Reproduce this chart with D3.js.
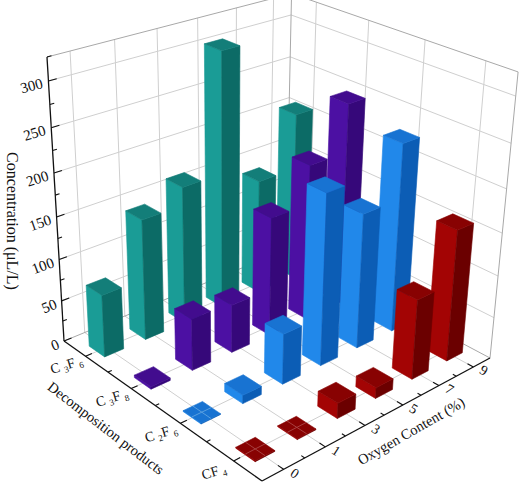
<!DOCTYPE html>
<html><head><meta charset="utf-8">
<script src="https://cdn.jsdelivr.net/npm/d3@7"></script>
<style>html,body{margin:0;padding:0;background:#fff;} svg{display:block;}</style>
</head><body>
<svg id="chart" width="520" height="484"></svg>
<script>
// ---------------- data ----------------
const products = ["C3F6", "C3F8", "C2F6", "CF4"];           // back -> front
const productLabels = [
  [["C ",0],["3",1],["F ",0],["6",1]],
  [["C ",0],["3",1],["F ",0],["8",1]],
  [["C ",0],["2",1],["F ",0],["6",1]],
  [["CF ",0],["4",1]]
];
const oxygen = ["0", "1", "3", "5", "7", "9"];               // Oxygen Content (%)
const c3f6 = [75, 145, 166, 306, 140, 206];
const c3f8 = [3, 62, 58, 143, 188, 244];
const c2f6 = [1, 10, 60, 202, 161, 225];
const cf4  = [1, 1, 18, 13, 95, 156];
const zTicks = [0, 50, 100, 150, 200, 250, 300];
const zMax = 325;
const zTitle = "Concentration (\u03bcL/L)";
const uTitle = "Decomposition products";
const vTitle = "Oxygen Content (%)";

const seriesValues = [c3f6, c3f8, c2f6, cf4];
const palette = [
  {left:"#1a9c96", right:"#0c6b66", top:"#137e79", cross:"#4fb5b0"},
  {left:"#4c10a3", right:"#36087a", top:"#420c8e", cross:"#7a50bb"},
  {left:"#2188ea", right:"#0c5db5", top:"#1873d2", cross:"#5aa0e0"},
  {left:"#a30404", right:"#6b0000", top:"#880202", cross:"#a84040"}
];

// ---------------- projection (perspective box) ----------------
const A = [64, 341], B = [262, 481], C = [490, 358];
const At = [47, 57], Dt = [290, -6], Ct = [518, 73];
function inter(p1, p2, p3, p4) {
  const d = (p1[0]-p2[0])*(p3[1]-p4[1]) - (p1[1]-p2[1])*(p3[0]-p4[0]);
  const a = p1[0]*p2[1] - p1[1]*p2[0], b = p3[0]*p4[1] - p3[1]*p4[0];
  return [(a*(p3[0]-p4[0]) - (p1[0]-p2[0])*b)/d, (a*(p3[1]-p4[1]) - (p1[1]-p2[1])*b)/d];
}
const VPu = inter(A, B, Dt, Ct), VPv = inter(B, C, At, Dt), VPw = inter(A, At, C, Ct);
const su = (A[0]-B[0])/(B[0]-VPu[0]);
const sw = (A[1]-At[1])/(At[1]-VPw[1]);
const Q = [A[0]+su*VPu[0], A[1]+su*VPu[1], 1+su];
const sv = (Q[0]-C[0]*Q[2])/(C[0]-VPv[0]);
function P(u, v, w) {
  const X = A[0] + u*su*VPu[0] + v*sv*VPv[0] + w*sw*VPw[0];
  const Y = A[1] + u*su*VPu[1] + v*sv*VPv[1] + w*sw*VPw[1];
  const W = 1 + u*su + v*sv + w*sw;
  return [X/W, Y/W];
}

// ---------------- scales ----------------
const uScale = d3.scaleBand().domain(products).range([0, 1]).paddingInner(0.65).paddingOuter(0.325);
const vScale = d3.scaleBand().domain(oxygen).range([0, 1]).paddingInner(0.54).paddingOuter(0.27);
const wScale = d3.scaleLinear().domain([0, zMax]).range([0, 1]);
const uStep = uScale.step(), vStep = vScale.step();
const uC = c => uScale(c) + uScale.bandwidth()/2;
const vC = c => vScale(c) + vScale.bandwidth()/2;

const svg = d3.select("#chart");
svg.append("rect").attr("width", 520).attr("height", 484).attr("fill", "#fff");
const line = d3.line();
function seg(g, p, q, color, width) {
  g.append("path").attr("d", line([p, q])).attr("stroke", color).attr("stroke-width", width).attr("fill", "none");
}
const ang = (p, q) => Math.atan2(q[1]-p[1], q[0]-p[0]) * 180 / Math.PI;

// ---------------- walls & grid ----------------
const grid = svg.append("g");
const gridCol = "#cfcfcf", frameCol = "#a8a8a8";
zTicks.filter(t => t > 0).forEach(t => {
  const w = wScale(t);
  seg(grid, P(0, 0, w), P(0, 1, w), gridCol, 1);   // left wall
  seg(grid, P(0, 1, w), P(1, 1, w), gridCol, 1);   // back wall
});
oxygen.forEach(o => {
  seg(grid, P(0, vC(o), 0), P(0, vC(o), 1), gridCol, 1);
  seg(grid, P(0, vC(o), 0), P(1, vC(o), 0), gridCol, 1);   // floor
});
products.forEach(p => {
  seg(grid, P(uC(p), 1, 0), P(uC(p), 1, 1), gridCol, 1);
  seg(grid, P(uC(p), 0, 0), P(uC(p), 1, 0), gridCol, 1);   // floor
});
[[P(0,1,0),P(1,1,0)],[P(0,0,0),P(0,1,0)],[P(0,1,0),P(0,1,1)],[P(1,1,0),P(1,1,1)],
 [P(0,0,1),P(0,1,1)],[P(0,1,1),P(1,1,1)]].forEach(s => seg(grid, s[0], s[1], frameCol, 1));

// ---------------- axes ----------------
const ax = svg.append("g");
const axCol = "#111";
seg(ax, P(0,0,0), P(0,0,1), axCol, 1.3);
seg(ax, P(0,0,0), P(1,0,0), axCol, 1.3);
seg(ax, P(1,0,0), P(1,1,0), axCol, 1.3);
d3.range(0, zMax + 1, 25).forEach(t => {
  const major = t % 50 === 0;
  seg(ax, P(0, 0, wScale(t)), P(0, major ? 0.03 : 0.016, wScale(t)), axCol, 1.1);
});
products.forEach((p, i) => {
  seg(ax, P(uC(p), 0, 0), P(uC(p), 0.025, 0), axCol, 1.1);
  if (i > 0) { const ub = i * uStep; seg(ax, P(ub, 0, 0), P(ub, 0.015, 0), axCol, 1.1); }
});
oxygen.forEach((o, j) => {
  seg(ax, P(1, vC(o), 0), P(1 - 0.025, vC(o), 0), axCol, 1.1);
  if (j > 0) { const vb = j * vStep; seg(ax, P(1, vb, 0), P(1 - 0.015, vb, 0), axCol, 1.1); }
});

// ---------------- bars ----------------
const bars = [];
products.forEach((p, i) => oxygen.forEach((o, j) => bars.push({i, j, p, o, val: seriesValues[i][j]})));
bars.sort((a, b) => (a.i - a.j) - (b.i - b.j));
const barG = svg.append("g");
bars.forEach(b => {
  const u0 = uScale(b.p), u1 = u0 + uScale.bandwidth();
  const v0 = vScale(b.o), v1 = v0 + vScale.bandwidth();
  const h = wScale(b.val);
  const col = palette[b.i];
  const faces = [
    {pts: [P(u0,v0,0), P(u1,v0,0), P(u1,v0,h), P(u0,v0,h)], c: col.left},
    {pts: [P(u1,v0,0), P(u1,v1,0), P(u1,v1,h), P(u1,v0,h)], c: col.right},
    {pts: [P(u0,v0,h), P(u1,v0,h), P(u1,v1,h), P(u0,v1,h)], c: col.top}
  ];
  faces.forEach(f => barG.append("path").attr("d", line(f.pts) + "Z")
    .attr("fill", f.c).attr("stroke", f.c).attr("stroke-width", 0.6).attr("stroke-linejoin", "round"));
  if (b.val <= 1.5) {   // floor grid showing through near-zero slabs
    const uc = uC(b.p), vc = vC(b.o);
    seg(barG, P(uc, v0, h), P(uc, v1, h), col.cross, 1);
    seg(barG, P(u0, vc, h), P(u1, vc, h), col.cross, 1);
  }
});

// ---------------- labels ----------------
const font = "'Liberation Serif','Times New Roman',serif";
const lab = svg.append("g").attr("font-family", font).attr("fill", "#111");
zTicks.forEach(t => {
  const w = wScale(t);
  const p = P(0, -0.022, w);
  const a = ang(P(0, -0.1, w), P(0, 0.1, w));
  lab.append("text").attr("transform", `translate(${p[0]},${p[1]}) rotate(${a})`)
    .attr("text-anchor", "end").attr("dy", "0.35em").attr("font-size", 15).text(t);
});
products.forEach((p, i) => {
  const c = P(uC(p), -0.075, 0);
  const t = lab.append("text").attr("transform", `translate(${c[0]},${c[1]}) rotate(-17)`)
    .attr("text-anchor", "middle");
  productLabels[i].forEach(([s, sub], k) => {
    const prev = k > 0 ? productLabels[i][k-1][1] : 0;
    const dy = k === 0 ? 5 : (sub ? 3 : (prev ? -3 : 0));
    t.append("tspan").attr("font-size", sub ? 9 : 14).attr("dy", dy).text(s);
  });
});
oxygen.forEach(o => {
  const c = P(1.035, vC(o) + 0.012, 0);
  const a = ang(P(0.9, vC(o), 0), P(1.1, vC(o), 0));
  lab.append("text").attr("transform", `translate(${c[0]},${c[1]}) rotate(${a})`)
    .attr("text-anchor", "middle").attr("dy", "0.35em").attr("font-size", 14).text(o);
});
lab.append("text").attr("transform", "translate(13,221) rotate(90)").attr("text-anchor", "middle")
  .attr("dy", "0.35em").attr("font-size", 16).text(zTitle);
lab.append("text").attr("transform", "translate(106,428) rotate(37.5)").attr("text-anchor", "middle")
  .attr("dy", "0.35em").attr("font-size", 14.5).text(uTitle);
lab.append("text").attr("transform", "translate(411,431) rotate(-30)").attr("text-anchor", "middle")
  .attr("dy", "0.35em").attr("font-size", 14.5).text(vTitle);
</script>
</body></html>
